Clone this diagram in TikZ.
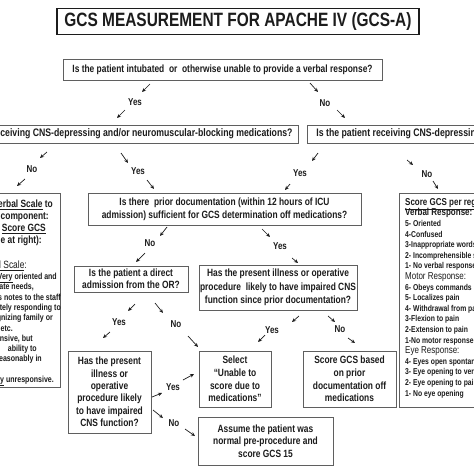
\documentclass[tikz,border=0pt]{standalone}
\usepackage{fontspec}
\setmainfont{Liberation Sans}[FakeStretch=0.8]
\newfontfamily\narrowfont{Liberation Sans}[FakeStretch=0.8]
\usetikzlibrary{arrows.meta,calc}
\definecolor{ink}{RGB}{28,28,28}
\definecolor{frame}{RGB}{95,95,95}
\newcommand{\hd}{\fontsize{10}{12}\selectfont}

\begin{document}
\begin{tikzpicture}[x=1pt,y=-1pt,
  box/.style={draw=frame, line width=0.9pt, inner sep=0pt, align=center, text=ink,
    font=\fontsize{10.5}{12.8}\selectfont\bfseries},
  lbl/.style={text=ink, inner sep=0pt, font=\fontsize{10}{12}\selectfont\bfseries},
  arr/.style={-{Stealth[length=4pt,width=3.6pt]}, line width=0.7pt, draw=ink},
  headline/.style={text=ink, inner sep=0pt, anchor=base east, font=\fontsize{10.5}{12}\selectfont\bfseries},
  smallline/.style={text=ink, inner sep=0pt, anchor=base east, font=\fontsize{8.8}{10}\selectfont\narrowfont\bfseries},
  rline/.style={text=ink, inner sep=0pt, anchor=base west, font=\fontsize{8.5}{10}\selectfont\bfseries}]
\useasboundingbox (0,0) rectangle (474,474);
\clip (0,0) rectangle (474,474);
\fill[white] (0,0) rectangle (474,474);

% title
\node[box, draw=ink, line width=1.3pt, minimum width=362, minimum height=26,
  font=\fontsize{19.3}{22}\selectfont\bfseries] (title) at (238,21.5) {GCS MEASUREMENT FOR APACHE IV (GCS-A)};

% questions
\node[box, minimum width=319, minimum height=21] (q1) at (222.5,69.5) {Is the patient intubated\ \ or\ \ otherwise unable to provide a verbal response?};
\node[box, anchor=east, minimum height=18, inner xsep=6pt, font=\fontsize{10.9}{12}\selectfont\bfseries] (q2l) at (299,134) {Is the patient receiving CNS-depressing and/or neuromuscular-blocking medications?};
\node[box, anchor=west, minimum height=18, inner xsep=9pt, font=\fontsize{10.9}{12}\selectfont\bfseries] (q2r) at (307,134) {Is the patient receiving CNS-depressing and/or neuromuscular-blocking medications?};
\node[box, minimum width=273, minimum height=32] (q3) at (224.5,209) {Is there\ \ prior documentation (within 12 hours of ICU\\admission) sufficient for GCS determination off medications?};
\node[box, minimum width=114, minimum height=26, font=\fontsize{10.5}{12}\selectfont\bfseries] (q4) at (131,279) {Is the patient a direct\\admission from the OR?};
\node[box, minimum width=158, minimum height=45, font=\fontsize{10.5}{13.5}\selectfont\bfseries] (q5) at (278,287.5) {Has the present illness or operative\\procedure\ \ likely to have impaired CNS\\function since prior documentation?};
\node[box, minimum width=83, minimum height=82, font=\fontsize{10.5}{12.4}\selectfont\bfseries] (q6) at (109.5,392) {Has the present\\illness or\\operative\\procedure likely\\to have impaired\\CNS function?};

% outcomes
\node[box, minimum width=72, minimum height=56] (sel) at (235,379) {Select\\“Unable to\\score due to\\medications”};
\node[box, minimum width=93, minimum height=56] (sgcs) at (349.5,379) {Score GCS based\\on prior\\documentation off\\medications};
\node[box, minimum width=135, minimum height=48, font=\fontsize{10.5}{12.5}\selectfont\bfseries] (asm) at (265.5,441) {Assume the patient was\\normal pre-procedure and\\score GCS 15};

% left box: modified verbal scale
\node[box, anchor=north east, minimum width=160, minimum height=194] (lbox) at (61,193) {};
\foreach \xe/\yb/\t [count=\k] in {53/207.7/{Use the \underline{Modified Verbal Scale} to},
    49/219.7/{assess the verbal component:},
    46/231.7/{Motor and Eye: \underline{Score GCS}},
    42/243.7/{(see table at right):}}
  \node[headline] (lh\k) at (\xe,\yb) {\t};
\node[headline, font=\fontsize{10.5}{12}\selectfont] (lsc) at (27,268.7) {\underline{Modified Verbal Scale}:};
\foreach \xe/\yb/\t [count=\k] in {57/279/{5 = \underline{Very} oriented and},
    34/289.5/{able to communicate needs,},
    61/300/{e.g., writes notes to the staff},
    61/310/{or is appropriately responding to},
    53/320/{questions, recognizing family or},
    13/331/{staff, etc.},
    33/341/{3 = responsive, but},
    37/351/{ability to},
    42/361/{converse reasonably in},
    54/382/{1 = \underline{Very} unresponsive.}}
  \node[smallline] (ls\k) at (\xe,\yb) {\t};

% right box: regular scale
\node[box, anchor=north west, minimum width=120, minimum height=214] (rbox) at (399,193) {};
\foreach \t [count=\k] in {{\hd\underline{Score GCS per regular scale:}}, {\hd Verbal Response:},
    {5- Oriented}, {4-Confused}, {3-Inappropriate words}, {2- Incomprehensible sounds},
    {1- No verbal response}, {\hd\mdseries Motor Response:}, {6- Obeys commands},
    {5- Localizes pain}, {4- Withdrawal from pain}, {3-Flexion to pain},
    {2-Extension to pain}, {1-No motor response}, {\hd\mdseries Eye Response:},
    {4- Eyes open spontaneously}, {3- Eye opening to verbal command},
    {2- Eye opening to pain}, {1- No eye opening}}
  \node[rline] (r\k) at (405,{194.6+10.6*\k}) {\t};

% branch labels
\node[lbl] (y1) at (135,102) {Yes};
\node[lbl] (n1) at (325,103) {No};
\node[lbl] (n2) at (32,169) {No};
\node[lbl] (y2) at (138,171) {Yes};
\node[lbl] (y3) at (300,173) {Yes};
\node[lbl] (n3) at (427,174) {No};
\node[lbl] (n4) at (150,243) {No};
\node[lbl] (y4) at (280,246) {Yes};
\node[lbl] (y5) at (119,322) {Yes};
\node[lbl] (n5) at (176,324) {No};
\node[lbl] (y6) at (272,330) {Yes};
\node[lbl] (n6) at (340,329) {No};
\node[lbl] (y7) at (173,387) {Yes};
\node[lbl] (n7) at (174,423) {No};

% short arrows in and out of each label
\foreach \l/\ax/\ay/\bx/\by in {y1/15/-18/7/-10, y1/-10/8/-18/16,
    n1/-15/-20/-7/-11, n1/12/7/20/15, n2/15/-17/8/-11, n2/-7/10/-15/17,
    y2/-17/-18/-10/-8, y2/9/9/16/18, y3/18/-20/12/-12, y3/-10/11/-15/17,
    n3/-20/-14/-14/-9, n3/6/7/11/15, n4/17/-16/10/-7, n4/-5/10/-14/19,
    y4/-18/-17/-10/-9, y4/12/12/18/17, y5/16/-18/9/-11, y5/-9/10/-16/16,
    n5/-21/-21/-13/-11, n5/12/12/22/23, y6/27/-14/20/-8, y6/-7/5/-14/12,
    n6/-12/-13/-5/-7, n6/8/9/15/14, y7/-21/10/-11/6, y7/10/-7/21/-13,
    n7/-21/-13/-11/-5, n7/11/6/21/13}
  \draw[arr] ($(\l)+(\ax,\ay)$) -- ($(\l)+(\bx,\by)$);
\end{tikzpicture}
\end{document}
